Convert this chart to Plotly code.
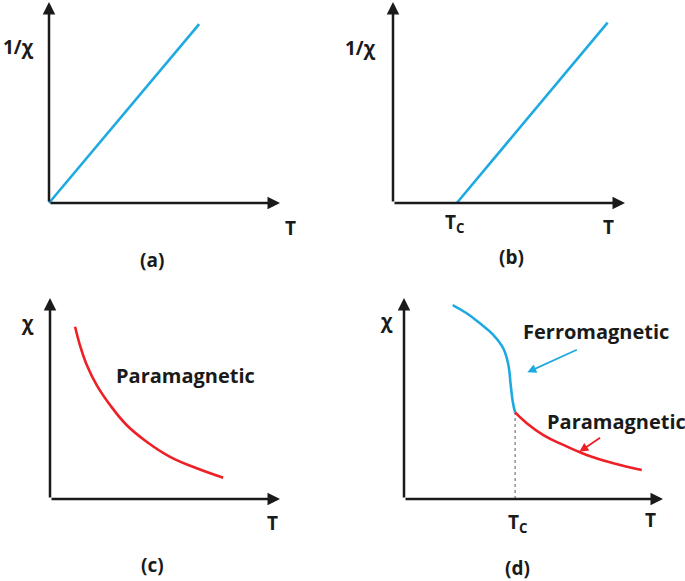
import plotly.graph_objects as go

# panel (a): 1/chi vs T, Curie law
a_T = [0.0, 6.5]
a_inv_chi = [0.0, 8.9]

# panel (b): 1/chi vs T, Curie-Weiss law
tc_b = 2.75
b_T = [tc_b, 9.25]
b_inv_chi = [0.0, 8.97]

# panel (c): paramagnetic chi vs T
c_T = [1.09, 1.30, 1.60, 2.03, 2.61, 3.33, 4.20, 5.22, 6.38, 7.53]
c_chi = [8.57, 7.66, 6.67, 5.67, 4.68, 3.68, 2.85, 2.10, 1.53, 1.06]

# panel (d): ferromagnetic branch + paramagnetic branch
tc_d = 4.29
d_ferro_T = [1.88, 2.42, 2.93, 3.45, 3.83, 4.03, 4.12, 4.20, 4.29]
d_ferro_chi = [9.65, 9.24, 8.74, 8.16, 7.50, 6.67, 5.67, 4.84, 4.31]
d_para_T = [4.29, 4.74, 5.38, 6.15, 7.05, 8.08, 9.18]
d_para_chi = [4.31, 3.77, 3.18, 2.69, 2.19, 1.78, 1.44]

BLUE = "rgb(30,170,225)"
RED = "rgb(238,32,38)"
INK = "#1a1a1a"
FAMILY = "Open Sans, Lato, sans-serif"

W, H = 685, 581
PAD = 0.5  # data units of room left of / below the origin


def px(x):
    return x / W


def py(y):
    return 1 - y / H


def panel_domain(ox, oy, tip_x, top_y):
    # origin pixel, x-arrow tip pixel, y-arrow top pixel -> domains for range [-PAD, 10]
    sx = (tip_x - ox) / 10
    sy = (oy - top_y) / 10
    return [px(ox - PAD * sx), px(tip_x)], [py(oy + PAD * sy), py(top_y)]


panels = {
    "a": panel_domain(49, 203, 280, 2),
    "b": panel_domain(393, 203, 625, 2),
    "c": panel_domain(50, 499, 280, 298),
    "d": panel_domain(404, 499, 663, 298),
}

fig = go.Figure()
layout = dict(
    width=W, height=H,
    margin=dict(l=0, r=0, t=0, b=0),
    paper_bgcolor="white", plot_bgcolor="white",
    showlegend=False,
)
annotations = []

for i, (key, (dx, dy)) in enumerate(panels.items(), start=1):
    sfx = "" if i == 1 else str(i)
    ax_style = dict(range=[-PAD, 10], showgrid=False, zeroline=False,
                    showline=False, showticklabels=False, ticks="")
    layout[f"xaxis{sfx}"] = dict(domain=dx, anchor=f"y{sfx}", **ax_style)
    layout[f"yaxis{sfx}"] = dict(domain=dy, anchor=f"x{sfx}", **ax_style)
    # axis arrows
    for tip in [(10, 0), (0, 10)]:
        annotations.append(dict(
            x=tip[0], y=tip[1], ax=0, ay=0,
            xref=f"x{sfx}", yref=f"y{sfx}", axref=f"x{sfx}", ayref=f"y{sfx}",
            text="", showarrow=True, arrowhead=2, arrowsize=1,
            arrowwidth=2.5, arrowcolor=INK,
        ))


def line(x, y, color, axis, width=2.6, dash=None):
    n = "" if axis == 1 else str(axis)
    fig.add_trace(go.Scatter(
        x=x, y=y, mode="lines", xaxis=f"x{n}", yaxis=f"y{n}",
        line=dict(color=color, width=width, dash=dash, shape="spline", smoothing=1.2),
        hoverinfo="skip",
    ))


line(a_T, a_inv_chi, BLUE, 1)
line(b_T, b_inv_chi, BLUE, 2)
line(c_T, c_chi, RED, 3)
line([tc_d, tc_d], [0, d_ferro_chi[-1]], "#777777", 4, width=1.2, dash="dot")
line(d_ferro_T, d_ferro_chi, BLUE, 4)
line(d_para_T, d_para_chi, RED, 4)

# pointer arrows in panel (d): (tail_T, tail_chi, head_T, head_chi)
ferro_pointer = [6.73, 7.46, 4.76, 6.30]
para_pointer = [7.63, 3.10, 6.77, 2.35]
for ptr, col in [(ferro_pointer, BLUE), (para_pointer, RED)]:
    annotations.append(dict(
        x=ptr[2], y=ptr[3], ax=ptr[0], ay=ptr[1],
        xref="x4", yref="y4", axref="x4", ayref="y4",
        text="", showarrow=True, arrowhead=2, arrowsize=1,
        arrowwidth=1.8, arrowcolor=col,
    ))

# text labels: (text, x pixel, y pixel, font size)
labels = [
    ("1/χ", 18, 47, 19), ("T", 290, 228, 19), ("(a)", 152, 260, 19),
    ("1/χ", 360, 48, 19), ("T<sub>C</sub>", 455, 223, 19), ("T", 608, 227, 19),
    ("(b)", 512, 257, 19),
    ("χ", 27, 323, 19), ("Paramagnetic", 185, 375, 20), ("T", 272, 523, 19),
    ("(c)", 152, 565, 19),
    ("χ", 387, 321, 19), ("Ferromagnetic", 596, 331, 20), ("Paramagnetic", 616, 421, 20),
    ("T<sub>C</sub>", 518, 523, 19), ("T", 650, 520, 19), ("(d)", 517, 568, 19),
]
for text, x, y, size in labels:
    annotations.append(dict(
        text=f"<b>{text}</b>", x=px(x), y=py(y), xref="paper", yref="paper",
        showarrow=False, font=dict(family=FAMILY, size=size, color=INK),
        xanchor="center", yanchor="middle",
    ))

layout["annotations"] = annotations
fig.update_layout(**layout)
# the page body has a default 8px margin; drop it so the figure sits at (0, 0)
fig.write_html(
    "out.html",
    config={"displayModeBar": False},
    post_script="document.body.style.margin='0';document.body.style.overflow='hidden';",
)
